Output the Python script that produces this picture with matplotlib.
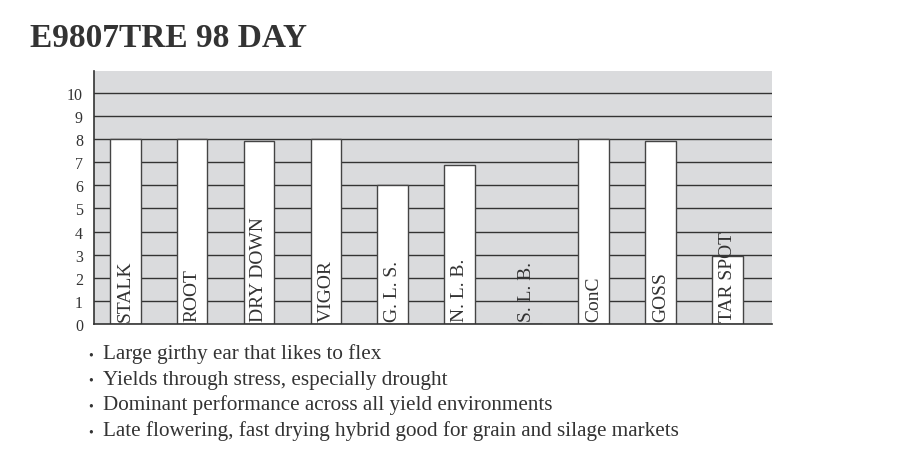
import matplotlib.pyplot as plt

traits = ['STALK', 'ROOT', 'DRY DOWN', 'VIGOR', 'G. L. S.', 'N. L. B.',
          'S. L. B.', 'ConC', 'GOSS', 'TAR SPOT']
scores = [8, 8, 7.9, 8, 6, 6.9, 0, 8, 7.9, 2.95]
yticks = list(range(0, 11))
title = 'E9807TRE 98 DAY'
bullets = ['Large girthy ear that likes to flex',
           'Yields through stress, especially drought',
           'Dominant performance across all yield environments',
           'Late flowering, fast drying hybrid good for grain and silage markets']

plt.rcParams['font.family'] = ['Liberation Serif', 'DejaVu Serif']

grey = '#dadbdd'
dark = '#333333'

fig = plt.figure(figsize=(9.2, 4.6), dpi=100)
ax = fig.add_axes([94 / 920, 1 - 325 / 460, (772 - 94) / 920, (325 - 72) / 460])
ax.set_facecolor(grey)

x = range(len(traits))
for t in yticks[1:]:
    ax.axhline(t, color=dark, lw=1.0, zorder=1)
ax.bar(x, scores, width=0.46, color='white', edgecolor='#444444', lw=1.0, zorder=2)

for i, name in enumerate(traits):
    ax.text(i, 0.12, name, rotation=90, ha='center', va='bottom',
            fontsize=14, color=dark, zorder=3)

ax.set_xlim(-0.465, len(traits) - 1 + 0.665)
ax.set_ylim(0, 10.95)
ax.set_xticks([])
ax.set_yticks(yticks)
ax.set_yticklabels([str(t) for t in yticks], fontsize=11.5, color=dark)
ax.tick_params(axis='y', length=0, pad=8)
for s in ['top', 'right']:
    ax.spines[s].set_visible(False)
for s in ['left', 'bottom']:
    ax.spines[s].set_color(dark)
    ax.spines[s].set_linewidth(1.2)

fig.text(30 / 920, 1 - 47 / 460, title, fontsize=24, fontweight='bold',
         color=dark, ha='left', va='baseline')

for k, line in enumerate(bullets):
    yy = 1 - (359 + k * 25.7) / 460
    fig.text(88 / 920, yy, '\u2022', fontsize=10, color=dark, ha='left', va='baseline')
    fig.text(103 / 920, yy, line, fontsize=15.2, color=dark, ha='left', va='baseline')

fig.savefig('out.png', dpi=100)
